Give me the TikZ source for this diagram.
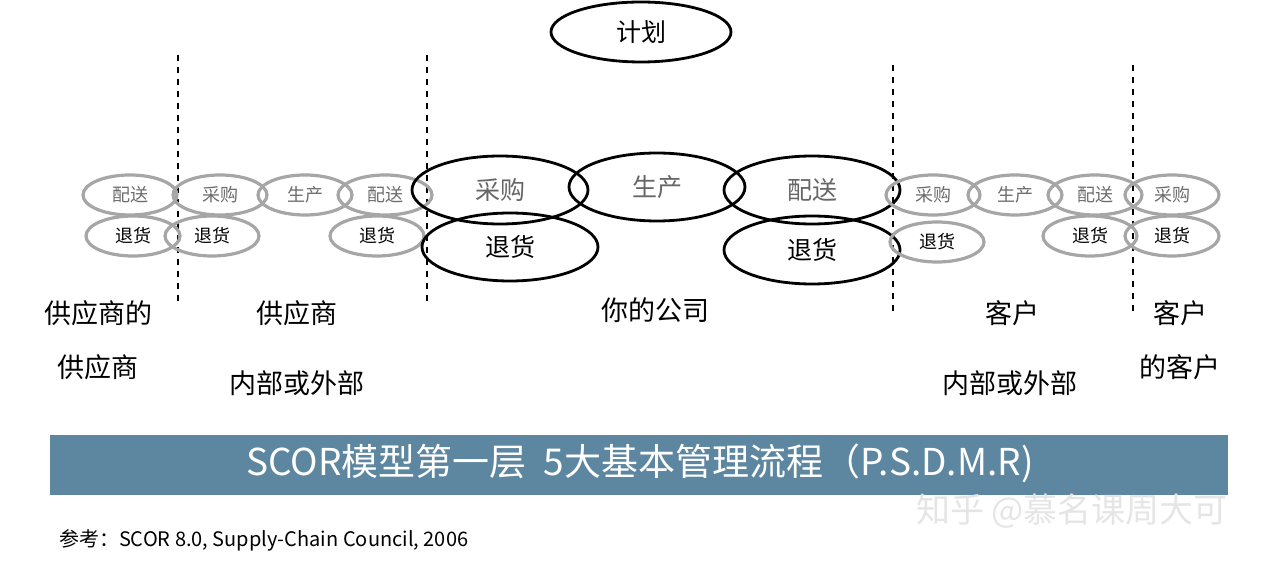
\documentclass[tikz,border=0pt]{standalone}
\usepackage{fontspec}
\setmainfont{Noto Sans CJK SC}[BoldFont={Noto Sans CJK SC Bold}]
\begin{document}
\begin{tikzpicture}[x=0.5pt,y=-0.5pt,
 sm/.style={ellipse,draw=gray!70,line width=1.6pt,minimum width=47pt,minimum height=20pt,inner sep=0pt,text=gray!85!black,font=\fontsize{9}{9}\selectfont},
 smb/.style={sm,text=black},
 big/.style={ellipse,draw=black,line width=1.4pt,minimum width=88pt,minimum height=34pt,inner sep=0pt,font=\fontsize{12.5}{12.5}\selectfont},
 bigg/.style={big,text=gray!80!black},
 dl/.style={dashed,line width=0.8pt},
 lab/.style={font=\fontsize{13.5}{13.5}\selectfont}]
\useasboundingbox (0,0) rectangle (1280,561);
\usetikzlibrary{shapes.geometric}
\node[big,minimum width=90pt,minimum height=30pt] (plan) at (641,32) {计划};
\coordinate (d1a) at (178,55); \coordinate (d1b) at (178,302);
\coordinate (d2a) at (427,55); \coordinate (d2b) at (427,305);
\coordinate (d3a) at (893,65); \coordinate (d3b) at (893,312);
\coordinate (d4a) at (1133,65); \coordinate (d4b) at (1133,312);
\draw[dl] (d1a)--(d1b); \draw[dl] (d2a)--(d2b); \draw[dl] (d3a)--(d3b); \draw[dl] (d4a)--(d4b);
\node[sm] (a1) at (130,195) {配送};
\node[sm] (a2) at (220,195) {采购};
\node[sm] (a3) at (305,195) {生产};
\node[sm] (a4) at (385,195) {配送};
\node[smb] (r1) at (133,236) {退货};
\node[smb] (r2) at (212,236) {退货};
\node[smb] (r3) at (377,236) {退货};
\node[bigg] (b1) at (500,190) {采购};
\node[bigg] (b2) at (657,187) {生产};
\node[bigg] (b3) at (812,190) {配送};
\node[big] (b4) at (510,247) {退货};
\node[big] (b5) at (812,250) {退货};
\node[sm] (c1) at (933,195) {采购};
\node[sm] (c2) at (1015,195) {生产};
\node[sm] (c3) at (1095,195) {配送};
\node[sm] (c4) at (1172,195) {采购};
\node[smb] (s1) at (937,242) {退货};
\node[smb] (s2) at (1090,236) {退货};
\node[smb] (s3) at (1172,236) {退货};
\node[lab] (l1) at (98,313) {供应商的};
\node[lab] (l2) at (98,367) {供应商};
\node[lab] (l3) at (297,313) {供应商};
\node[lab] (l4) at (297,383) {内部或外部};
\node[lab] (l5) at (655,310) {你的公司};
\node[lab] (l6) at (1012,313) {客户};
\node[lab] (l7) at (1010,383) {内部或外部};
\node[lab] (l8) at (1180,313) {客户};
\node[lab] (l9) at (1180,367) {的客户};
\fill[fill={rgb,255:red,93;green,134;blue,160}] (50,435) rectangle (1228,495);
\node[text=white,font=\fontsize{18.5}{18.5}\selectfont] (ban) at (640,463) {SCOR模型第一层\ \ 5大基本管理流程（P.S.D.M.R)};
\node[text=gray!20,font=\fontsize{17}{17}\selectfont] (wm) at (1072,511) {知乎 @慕名课周大可};
\node[anchor=west,font=\fontsize{10}{10}\selectfont] (ref) at (52,540) {参考：SCOR 8.0, Supply-Chain Council, 2006};
\end{tikzpicture}
\end{document}
